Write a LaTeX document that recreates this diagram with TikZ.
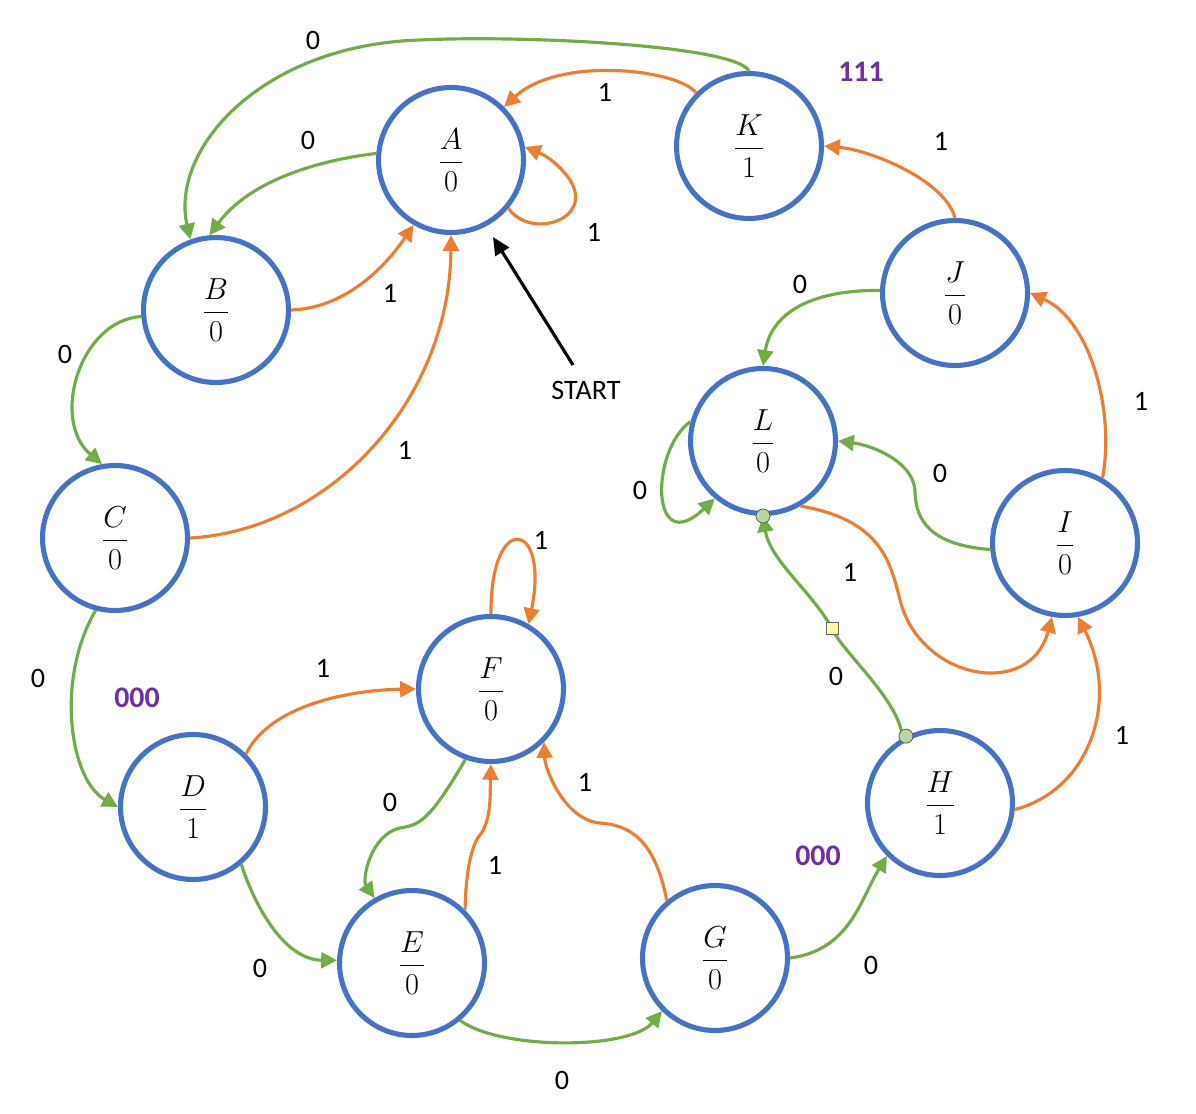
\documentclass[tikz,border=0pt]{standalone}
\usepackage{fontspec}
\setmainfont{Carlito}
\usepackage{amsmath}
\usetikzlibrary{arrows.meta}
\definecolor{bl}{HTML}{4472C4}
\definecolor{or}{HTML}{ED7D31}
\definecolor{gr}{HTML}{70AD47}
\definecolor{pu}{HTML}{7030A0}
\tikzset{
 st/.style={circle,draw=bl,line width=2.9pt,minimum size=2.9cm,inner sep=0pt,font=\fontsize{19}{22}\selectfont},
 o/.style={draw=or,line width=1.8pt,-{Triangle[length=9pt,width=9pt]}},
 g/.style={draw=gr,line width=1.8pt,-{Triangle[length=9pt,width=9pt]}},
 lb/.style={font=\fontsize{16}{18}\selectfont},
 pl/.style={font=\bfseries\fontsize{17}{19}\selectfont,text=pu}
}
\newcommand{\st}[2]{$\dfrac{#1}{#2}$}
\begin{document}
\begin{tikzpicture}[x=0.02cm,y=-0.02cm]
\useasboundingbox (0,0) rectangle (1196,1114);
\node[st] (A) at (451,160) {\st{A}{0}};
\node[st] (K) at (749,146) {\st{K}{1}};
\node[st] (B) at (216,310) {\st{B}{0}};
\node[st] (C) at (115,538) {\st{C}{0}};
\node[st] (J) at (955,293) {\st{J}{0}};
\node[st] (L) at (763,441) {\st{L}{0}};
\node[st] (I) at (1065,543) {\st{I}{0}};
\node[st] (F) at (491,689) {\st{F}{0}};
\node[st] (D) at (193,807) {\st{D}{1}};
\node[st] (E) at (412,963) {\st{E}{0}};
\node[st] (G) at (715,958) {\st{G}{0}};
\node[st] (H) at (940,803) {\st{H}{1}};
% edges
\draw[g] (K.90) .. controls (735,45) and (520,35) .. (420,40) .. controls (260,45) and (170,150) .. (B.110);
\node[lb] at (313,40) {0};
\draw[o] (K.135) .. controls (680,70) and (560,55) .. (A.45);
\node[lb] at (605,92) {1};
\draw[g] (A.175) .. controls (320,160) and (250,180) .. (B.95);
\node[lb] at (308,140) {0};
\draw[o] (A.-40) .. controls (530,240) and (595,220) .. (570,180) .. controls (560,165) and (545,155) .. (A.10);
\node[lb] at (594,232) {1};
\draw[o] (B.0) .. controls (350,308) and (390,260) .. (A.-120);
\node[lb] at (390,293) {1};
\coordinate (s0) at (573,365);
\draw[line width=1.8pt,-{Triangle[length=10pt,width=9pt]}] (s0) -- (493,237);
\node[lb] (start) at (586,390) {START};
\draw[g] (B.185) .. controls (80,320) and (50,420) .. (C.100);
\node[lb] at (65,354) {0};
\draw[o] (C.0) .. controls (330,530) and (450,400) .. (A.-90);
\node[lb] at (405,450) {1};
\draw[g] (C.-105) .. controls (55,680) and (70,780) .. (D.180);
\node[lb] at (38,678) {0};
\node[pl] at (137,698) {000};
\draw[o] (D.45) .. controls (270,705) and (350,690) .. (F.180);
\node[lb] at (323,668) {1};
\draw[g] (D.-50) .. controls (260,920) and (290,960) .. (E.178);
\node[lb] at (260,968) {0};
\draw[o] (F.90) .. controls (490,510) and (550,520) .. (F.60);
\node[lb] at (541,540) {1};
\draw[g] (F.-110) .. controls (430,820) and (420,825) .. (400,828) .. controls (370,835) and (362,880) .. (E.120);
\node[lb] at (390,802) {0};
\draw[o] (E.45) .. controls (466,860) and (475,840) .. (480,835) .. controls (492,820) and (490,790) .. (F.-90);
\node[lb] at (495,865) {1};
\draw[o] (G.130) .. controls (655,840) and (630,825) .. (600,823) .. controls (565,820) and (545,770) .. (F.-45);
\node[lb] at (585,782) {1};
\draw[g] (E.-50) .. controls (500,1050) and (630,1050) .. (G.-135);
\node[lb] at (562,1080) {0};
\draw[g] (G.0) .. controls (850,950) and (860,900) .. (H.-135);
\node[lb] at (871,965) {0};
\node[pl] at (818,856) {000};
\draw[o] (H.-5) .. controls (1090,790) and (1120,700) .. (I.-80);
\node[lb] at (1122,735) {1};
\draw[g] (H.120) .. controls (900,700) and (840,650) .. (832,628) .. controls (810,590) and (770,560) .. (L.-90);
\node[draw=black!60,fill=yellow!35,minimum size=7pt,inner sep=0pt] at (832,628) {};
\node[circle,draw=black!70,fill=gr!50,minimum size=8pt,inner sep=0pt] at (H.117) {};
\node[circle,draw=black!70,fill=gr!50,minimum size=8pt,inner sep=0pt] at (L.-90) {};
\node[lb] at (836,676) {0};
\draw[o] (L.-60) .. controls (880,520) and (890,560) .. (900,600) .. controls (920,680) and (1030,700) .. (I.-100);
\node[lb] at (850,572) {1};
\draw[g] (I.185) .. controls (930,545) and (915,520) .. (915,490) .. controls (912,460) and (870,445) .. (L.0);
\node[lb] at (940,473) {0};
\draw[g] (L.165) .. controls (650,450) and (650,560) .. (L.-130);
\node[lb] at (640,490) {0};
\draw[o] (I.60) .. controls (1115,410) and (1090,320) .. (J.0);
\node[lb] at (1141,401) {1};
\draw[g] (J.178) .. controls (800,290) and (770,320) .. (L.90);
\node[lb] at (800,284) {0};
\draw[o] (J.90) .. controls (945,180) and (870,150) .. (K.0);
\node[lb] at (941,141) {1};
\node[pl] at (861,72) {111};
\end{tikzpicture}
\end{document}
